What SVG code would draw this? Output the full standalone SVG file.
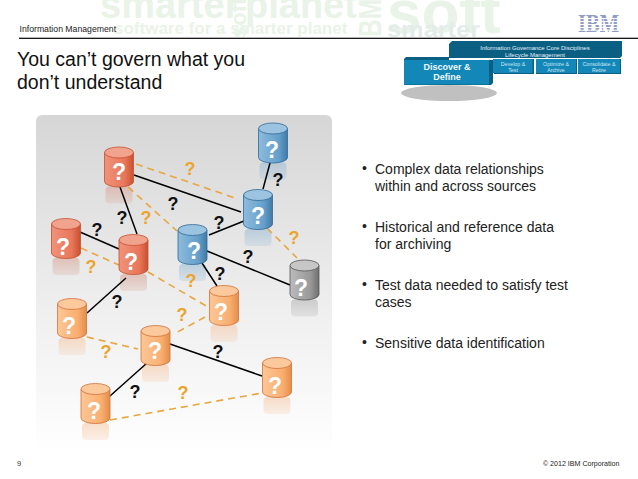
<svg xmlns="http://www.w3.org/2000/svg" xmlns:xlink="http://www.w3.org/1999/xlink" width="638" height="479" viewBox="0 0 638 479">
<style>
text{font-family:"Liberation Sans",Arial,sans-serif}
.wm{fill:#e9f3e7;font-weight:bold}
.s{stroke:#000;stroke-width:1.5;fill:none}
.d{stroke:#e8a63e;stroke-width:1.6;stroke-dasharray:7 5;fill:none}
.qb{font-size:18px;font-weight:bold;fill:#111;text-anchor:middle}
.qo{font-size:18px;font-weight:bold;fill:#eba52f;text-anchor:middle}
.qw{font-size:23px;font-weight:bold;fill:#fff;text-anchor:middle}
.b{font-size:14px;fill:#222}
.hw{fill:#e6f2f8;text-anchor:middle;font-size:6px}
.hs{fill:#cfe6f1;text-anchor:middle;font-size:5.300px}
</style>
<defs>
<linearGradient id="panel" x1="0" y1="0" x2="0" y2="1"><stop offset="0" stop-color="#d6d6d6"/><stop offset=".6" stop-color="#f0f0f0"/><stop offset="1" stop-color="#fff"/></linearGradient>
<linearGradient id="red" x1="0" x2="1" y1="0" y2="0"><stop offset="0" stop-color="#f0937a"/><stop offset=".7" stop-color="#e8765a"/><stop offset="1" stop-color="#c9502f"/></linearGradient>
<linearGradient id="blue" x1="0" x2="1" y1="0" y2="0"><stop offset="0" stop-color="#8dbbdc"/><stop offset=".7" stop-color="#669fcb"/><stop offset="1" stop-color="#3f7aa8"/></linearGradient>
<linearGradient id="orange" x1="0" x2="1" y1="0" y2="0"><stop offset="0" stop-color="#fcc796"/><stop offset=".7" stop-color="#f9ae70"/><stop offset="1" stop-color="#e58d48"/></linearGradient>
<linearGradient id="gray" x1="0" x2="1" y1="0" y2="0"><stop offset="0" stop-color="#bbb"/><stop offset=".7" stop-color="#999"/><stop offset="1" stop-color="#6f6f6f"/></linearGradient>
<linearGradient id="rr" x1="0" x2="0" y1="0" y2="1"><stop offset="0" stop-color="#d9a698" stop-opacity=".6"/><stop offset="1" stop-color="#d9a698" stop-opacity=".25"/></linearGradient>
<linearGradient id="rb" x1="0" x2="0" y1="0" y2="1"><stop offset="0" stop-color="#9dbdd6" stop-opacity=".6"/><stop offset="1" stop-color="#9dbdd6" stop-opacity=".25"/></linearGradient>
<linearGradient id="ro" x1="0" x2="0" y1="0" y2="1"><stop offset="0" stop-color="#f5c8a5" stop-opacity=".6"/><stop offset="1" stop-color="#f5c8a5" stop-opacity=".25"/></linearGradient>
<linearGradient id="rg" x1="0" x2="0" y1="0" y2="1"><stop offset="0" stop-color="#b5b5b5" stop-opacity=".6"/><stop offset="1" stop-color="#b5b5b5" stop-opacity=".25"/></linearGradient>
<rect id="ref" x="1" y="40" width="27" height="17" rx="4"/>
<g id="cyl-red"><path d="M0 6V35A14.500 5.500 0 0 0 29 35V6Z" fill="url(#red)" stroke="#c4502f" stroke-width=".8"/><ellipse cx="14.500" cy="6" rx="14.500" ry="5.500" fill="#f2a38e" stroke="#c4502f" stroke-width=".8"/></g>
<g id="cyl-blue"><path d="M0 6V35A14.500 5.500 0 0 0 29 35V6Z" fill="url(#blue)" stroke="#2f6a98" stroke-width=".8"/><ellipse cx="14.500" cy="6" rx="14.500" ry="5.500" fill="#9cc4e0" stroke="#2f6a98" stroke-width=".8"/></g>
<g id="cyl-orange"><path d="M0 6V35A14.500 5.500 0 0 0 29 35V6Z" fill="url(#orange)" stroke="#d2713a" stroke-width=".8"/><ellipse cx="14.500" cy="6" rx="14.500" ry="5.500" fill="#fcc99c" stroke="#d2713a" stroke-width=".8"/></g>
<g id="cyl-gray"><path d="M0 6V35A14.500 5.500 0 0 0 29 35V6Z" fill="url(#gray)" stroke="#555" stroke-width=".8"/><ellipse cx="14.500" cy="6" rx="14.500" ry="5.500" fill="#c6c6c6" stroke="#555" stroke-width=".8"/></g>
</defs>
<rect width="638" height="479" fill="#fff"/>
<g id="watermark">
<text class="wm" x="100" y="18" font-size="38">smarter</text>
<text class="wm" x="245" y="18" font-size="38">planet</text>
<text class="wm" x="114" y="34" font-size="17">software for a smarter planet</text>
<text class="wm" transform="translate(246,38) rotate(-90)" font-size="22">soft</text>
<text class="wm" transform="translate(381,37) rotate(-90)" font-size="32" textLength="38" lengthAdjust="spacingAndGlyphs">BM</text>
<text class="wm" x="387" y="33" font-size="62">soft</text>
<text x="387" y="37" font-size="22" font-weight="bold" fill="#e3ecea" textLength="93" lengthAdjust="spacingAndGlyphs">smarter</text>
</g>
<g id="header">
<text x="19.500" y="32" font-size="8.700" fill="#222">Information Management</text>
<rect x="19" y="37.700" width="619" height="1.200" fill="#000"/>
<text x="17" y="65.500" font-size="19.500" fill="#111">You can’t govern what you</text>
<text x="17" y="89" font-size="19.500" fill="#111">don’t understand</text>
</g>
<g id="ibm-logo">
<text x="578" y="32" font-size="25" font-weight="bold" fill="#8f9cc4" textLength="41" lengthAdjust="spacingAndGlyphs" style="font-family:'Liberation Serif',serif">IBM</text>
<path d="M575 18.500H622M575 21.500H622M575 24.500H622M575 27.500H622M575 30.200H622" stroke="#fff" stroke-width="1"/>
</g>
<g id="discipline-tabs">
<path d="M452 41H622V56L620 58H449V44Z" fill="#0b5f83"/>
<text class="hw" x="535" y="50">Information Governance Core Disciplines</text>
<text class="hw" x="535" y="57">Lifecycle Management</text>
<ellipse cx="449" cy="93" rx="48" ry="8" fill="#c0c0c0"/>
<path d="M406 57H449V60H493V83L491 85H404V59Z" fill="#0b5f83"/>
<rect x="404" y="60" width="85" height="24.500" fill="#1387b8"/>
<text x="447" y="70" font-size="9" font-weight="bold" fill="#eef7fb" text-anchor="middle">Discover &amp;</text>
<text x="447" y="80" font-size="9" font-weight="bold" fill="#eef7fb" text-anchor="middle">Define</text>
<rect x="494" y="59" width="40" height="15" fill="#0b5f83"/><rect x="493" y="59" width="39.500" height="14" fill="#1387b8"/>
<rect x="536" y="59" width="41" height="15" fill="#0b5f83"/><rect x="536" y="59" width="40" height="14" fill="#1387b8"/>
<rect x="578" y="59" width="43" height="15" fill="#0b5f83"/><rect x="578" y="59" width="42" height="14" fill="#1387b8"/>
<text class="hs" x="513" y="65.500">Develop &amp;</text><text class="hs" x="513" y="72">Test</text>
<text class="hs" x="556" y="65.500">Optimize &amp;</text><text class="hs" x="556" y="72">Archive</text>
<text class="hs" x="599" y="65.500">Consolidate &amp;</text><text class="hs" x="599" y="72">Retire</text>
</g>
<rect id="panel-bg" x="36" y="115" width="296" height="340" rx="6" fill="url(#panel)"/>
<g id="reflections">
<use xlink:href="#ref" x="258.500" y="122.500" fill="url(#rb)"/>
<use xlink:href="#ref" x="243.500" y="189" fill="url(#rb)"/>
<use xlink:href="#ref" x="178" y="224" fill="url(#rb)"/>
<use xlink:href="#ref" x="104.500" y="146.500" fill="url(#rr)"/>
<use xlink:href="#ref" x="51.500" y="218" fill="url(#rr)"/>
<use xlink:href="#ref" x="119" y="234" fill="url(#rr)"/>
<use xlink:href="#ref" x="290" y="259.500" fill="url(#rg)"/>
<use xlink:href="#ref" x="209.500" y="285" fill="url(#ro)"/>
<use xlink:href="#ref" x="57.500" y="298" fill="url(#ro)"/>
<use xlink:href="#ref" x="141" y="325" fill="url(#ro)"/>
<use xlink:href="#ref" x="262.500" y="357" fill="url(#ro)"/>
<use xlink:href="#ref" x="81" y="383" fill="url(#ro)"/>
</g>
<g id="connectors">
<path class="s" d="M270 163L263 189M134 175L241 212M120 187L137 234M80 232L119 249M209 235L244 221M207 251L290 285M202 263L217 286M126 278L87 313M170 344L262 376M147 363L110 396"/>
<path class="d" d="M136 164L238 199M128 187L177 231M267 228L297 258M81 248L119 265M148 272L208 307M205 317L174 334M87 337L138 349M110 420L262 393"/>
</g>
<g id="node-blue-top"><use xlink:href="#cyl-blue" x="258.500" y="122.500"/><text class="qw" x="272" y="158">?</text></g>
<g id="node-blue-2"><use xlink:href="#cyl-blue" x="243.500" y="189"/><text class="qw" x="258" y="224">?</text></g>
<g id="node-blue-3"><use xlink:href="#cyl-blue" x="178" y="224"/><text class="qw" x="194" y="259">?</text></g>
<g id="node-red-1"><use xlink:href="#cyl-red" x="104.500" y="146.500"/><text class="qw" x="119" y="180">?</text></g>
<g id="node-red-2"><use xlink:href="#cyl-red" x="51.500" y="218"/><text class="qw" x="63" y="255">?</text></g>
<g id="node-red-3"><use xlink:href="#cyl-red" x="119" y="234"/><text class="qw" x="131" y="270">?</text></g>
<g id="node-gray"><use xlink:href="#cyl-gray" x="290" y="259.500"/><text class="qw" x="301" y="296">?</text></g>
<g id="node-orange-1"><use xlink:href="#cyl-orange" x="209.500" y="285"/><text class="qw" x="221" y="320">?</text></g>
<g id="node-orange-2"><use xlink:href="#cyl-orange" x="57.500" y="298"/><text class="qw" x="69" y="334">?</text></g>
<g id="node-orange-3"><use xlink:href="#cyl-orange" x="141" y="325"/><text class="qw" x="155" y="359">?</text></g>
<g id="node-orange-4"><use xlink:href="#cyl-orange" x="262.500" y="357"/><text class="qw" x="275" y="394">?</text></g>
<g id="node-orange-5"><use xlink:href="#cyl-orange" x="81" y="383"/><text class="qw" x="94" y="419">?</text></g>
<g id="labels-black">
<text class="qb" x="278" y="186">?</text><text class="qb" x="173" y="210">?</text><text class="qb" x="122" y="224">?</text><text class="qb" x="219" y="229">?</text><text class="qb" x="97" y="236">?</text><text class="qb" x="248" y="263">?</text><text class="qb" x="220" y="280">?</text><text class="qb" x="117" y="308">?</text><text class="qb" x="218" y="358">?</text><text class="qb" x="135" y="398">?</text>
</g>
<g id="labels-orange">
<text class="qo" x="190" y="175">?</text><text class="qo" x="146" y="224">?</text><text class="qo" x="294" y="244">?</text><text class="qo" x="91" y="273">?</text><text class="qo" x="191" y="287">?</text><text class="qo" x="182" y="321">?</text><text class="qo" x="106" y="358">?</text><text class="qo" x="183" y="399">?</text>
</g>
<g id="bullets">
<text class="b" x="362" y="173">•</text><text class="b" x="375" y="174">Complex data relationships</text><text class="b" x="375" y="191">within and across sources</text>
<text class="b" x="362" y="231">•</text><text class="b" x="375" y="232">Historical and reference data</text><text class="b" x="375" y="249">for archiving</text>
<text class="b" x="362" y="289">•</text><text class="b" x="375" y="290">Test data needed to satisfy test</text><text class="b" x="375" y="307">cases</text>
<text class="b" x="362" y="347">•</text><text class="b" x="375" y="348">Sensitive data identification</text>
</g>
<g id="footer">
<text x="17" y="466" font-size="7.500" fill="#333">9</text>
<text x="619.500" y="466" font-size="7.100" fill="#222" text-anchor="end">© 2012 IBM Corporation</text>
</g>
</svg>
